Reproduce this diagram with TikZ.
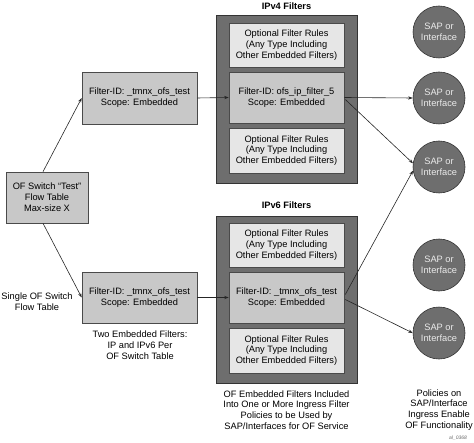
\documentclass[tikz,border=0pt]{standalone}
\usepackage{fontspec}
\setmainfont{Liberation Sans}
\usetikzlibrary{arrows.meta,calc}
\definecolor{boxgray}{HTML}{C8C8C8}
\definecolor{lightbox}{HTML}{E6E6E6}
\definecolor{darkbox}{HTML}{6E6E6E}
\definecolor{edgegray}{HTML}{4A4A4A}
\begin{document}
\begin{tikzpicture}[x=1bp,y=-1bp,
  every node/.style={font=\fontsize{9.3}{10.9}\selectfont, align=center, inner sep=0pt},
  graybox/.style={draw=edgegray, line width=0.6pt, fill=boxgray, minimum width=#1},
  graybox/.default=115bp,
  outerbox/.style={draw=black!80, line width=0.6pt, fill=darkbox, minimum width=141bp},
  optbox/.style={draw=edgegray, line width=0.6pt, fill=lightbox, minimum width=115bp, minimum height=44bp},
  midbox/.style={draw=edgegray, line width=0.6pt, fill=boxgray, minimum width=115bp, minimum height=51bp},
  sap/.style={circle, draw=black!80, line width=0.6pt, fill=darkbox, minimum size=52bp, text=white!92!black},
  conn/.style={draw=black!85, line width=0.6pt, -{Stealth[length=4.5pt,width=3.2pt]}},
  caption/.style={}
]
\useasboundingbox (0,0) rectangle (474,443);

% OF switch
\node[graybox=82bp, minimum height=51bp] (sw) at (47,197.5) {OF Switch “Test”\\Flow Table\\Max-size X};

% Embedded filter boxes
\node[graybox, minimum height=52bp] (up) at (139.5,98) {Filter-ID: \_tmnx\_ofs\_test\\Scope: Embedded};
\node[graybox, minimum height=51bp] (lo) at (139.5,297.5) {Filter-ID: \_tmnx\_ofs\_test\\Scope: Embedded};

% IPv4 filters
\node[font=\bfseries\fontsize{9.3}{10.9}\selectfont] (v4t) at (286.5,6) {IPv4 Filters};
\node[outerbox, minimum height=168bp] (v4) at (286.5,99) {};
\node[optbox] (v4top) at (286.5,45) {Optional Filter Rules\\(Any Type Including\\Other Embedded Filters)};
\node[midbox] (v4mid) at (286.5,97.5) {Filter-ID: ofs\_ip\_filter\_5\\Scope: Embedded};
\node[optbox, minimum height=45bp] (v4bot) at (286.5,150.5) {Optional Filter Rules\\(Any Type Including\\Other Embedded Filters)};

% IPv6 filters
\node[font=\bfseries\fontsize{9.3}{10.9}\selectfont] (v6t) at (286.5,205.5) {IPv6 Filters};
\node[outerbox, minimum height=167bp] (v6) at (286.5,299.5) {};
\node[optbox] (v6top) at (286.5,245) {Optional Filter Rules\\(Any Type Including\\Other Embedded Filters)};
\node[midbox] (v6mid) at (286.5,297.5) {Filter-ID: \_tmnx\_ofs\_test\\Scope: Embedded};
\node[optbox, minimum height=45bp] (v6bot) at (286.5,350.5) {Optional Filter Rules\\(Any Type Including\\Other Embedded Filters)};

% SAP circles
\node[sap] (c1) at (439,32) {SAP or\\Interface};
\node[sap] (c2) at (439,98) {SAP or\\Interface};
\node[sap] (c3) at (439,167) {SAP or\\Interface};
\node[sap] (c4) at (439,265) {SAP or\\Interface};
\node[sap] (c5) at (439,333) {SAP or\\Interface};

% captions
\node[caption] (capa) at (37,302) {Single OF Switch\\Flow Table};
\node[caption] (capb) at (140,345.5) {Two Embedded Filters:\\IP and IPv6 Per\\OF Switch Table};
\node[caption] (capc) at (286.5,410) {OF Embedded Filters Included\\Into One or More Ingress Filter\\Policies to be Used by\\SAP/Interfaces for OF Service};
\node[caption] (capd) at (439,410) {Policies on\\SAP/Interface\\Ingress Enable\\OF Functionality};
\node[font=\itshape\fontsize{5}{6}\selectfont, text=black!60] (fig) at (458,438) {al\_0368};

% connectors
\draw[conn] ($(sw.north)+(-4,0)$) -- (up.west);
\draw[conn] ($(sw.south)+(-4,0)$) -- (lo.west);
\draw[conn] (up.east) -- (v4mid.west);
\draw[conn] (lo.east) -- (v6mid.west);
\draw[conn] (v4mid.east) -- (c2.west);
\draw[conn] ($(v4mid.east)+(1,2)$) -- (c3.172);
\draw[conn] ($(v6mid.east)+(1,-3)$) -- (c3.188);
\draw[conn] ($(v6mid.east)+(1,2)$) -- (c5.west);
\end{tikzpicture}
\end{document}
